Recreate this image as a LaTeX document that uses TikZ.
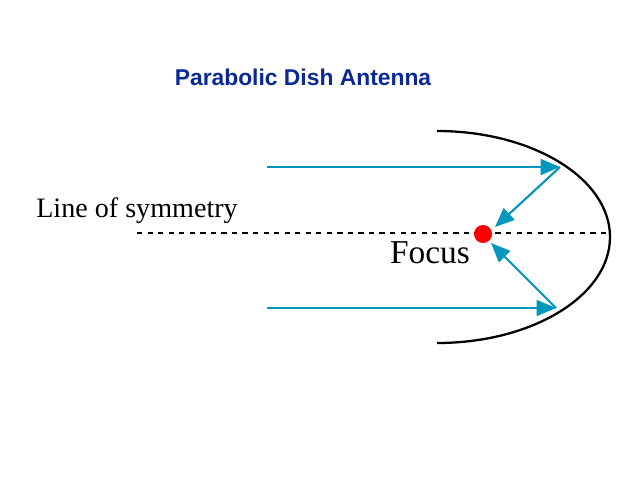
\documentclass[tikz,border=0pt]{standalone}
\usepackage{fontspec}
\setmainfont{Liberation Serif}
\newfontfamily\arial{Liberation Sans}
\usetikzlibrary{arrows.meta}
\definecolor{ttl}{RGB}{10,40,150}
\definecolor{ray}{RGB}{0,150,190}
\begin{document}
\begin{tikzpicture}[x=0.02cm,y=-0.02cm,
  rayline/.style={draw=ray,line width=1.2pt,-{Triangle[length=11pt,width=9pt]}}]
\useasboundingbox (0,0) rectangle (638,478);
\node[font=\arial\bfseries\fontsize{13}{15}\selectfont,text=ttl] (title) at (303,77) {Parabolic Dish Antenna};
\draw[line width=1.3pt] (437,131) arc[start angle=90,end angle=-90,x radius=173,y radius=-106];
\draw[dashed,line width=0.7pt] (137,233) -- (610,233);
\node[font=\fontsize{16}{18}\selectfont] (los) at (137,211) {Line of symmetry};
\node[font=\fontsize{19}{21}\selectfont] (focuslbl) at (430,253) {Focus};
\coordinate (a1) at (267,167); \coordinate (b1) at (560,167);
\coordinate (a2) at (267,308); \coordinate (b2) at (556,308);
\coordinate (f1) at (495,227); \coordinate (f2) at (491,243);
\draw[rayline] (a1) -- (b1);
\draw[rayline] (a2) -- (b2);
\draw[rayline] (b1) -- (f1);
\draw[rayline] (b2) -- (f2);
\fill[red] (483,234) circle[radius=9] node (focus) {};
\end{tikzpicture}
\end{document}
